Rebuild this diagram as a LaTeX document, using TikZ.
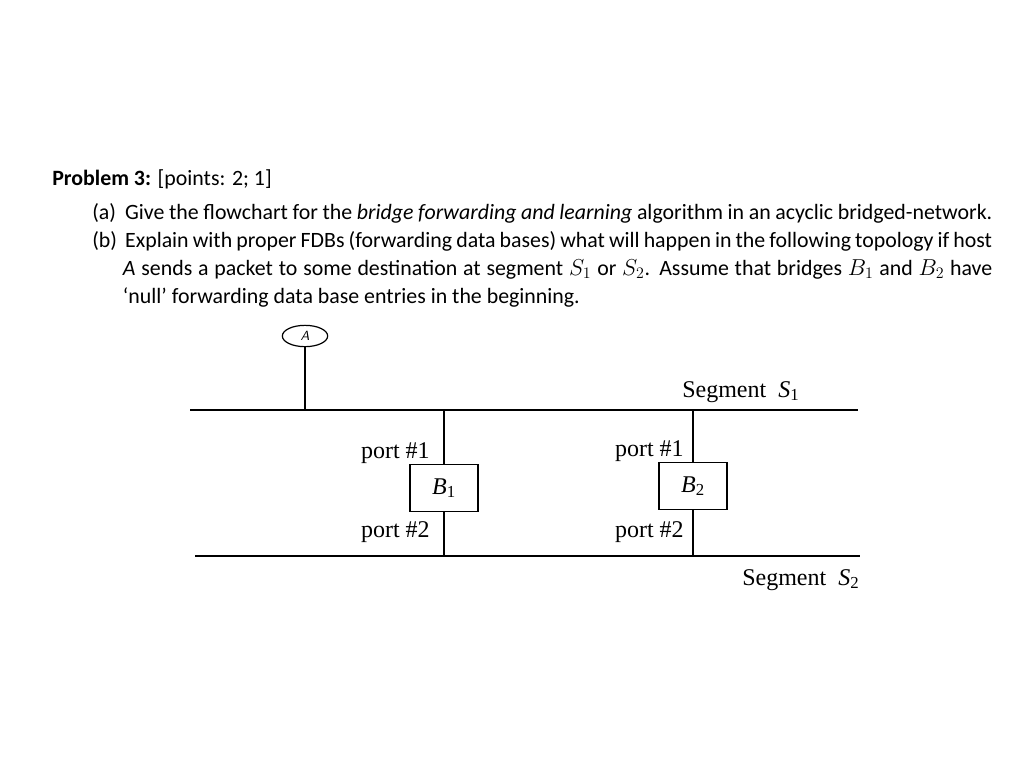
\documentclass[tikz,border=0pt]{standalone}
\usepackage{fontspec}
\setmainfont{Carlito}
\newfontfamily\tms{Liberation Serif}
\usetikzlibrary{shapes.geometric}
\newcommand{\tsub}[2]{\textit{#1}\textsubscript{#2}}
\begin{document}
\begin{tikzpicture}[x=0.75pt,y=-0.75pt,
  net/.style={line width=1.1pt},
  lab/.style={font=\tms\fontsize{18}{21}\selectfont, inner sep=0pt},
  box/.style={draw, line width=1.1pt, minimum width=51pt, minimum height=35pt, inner sep=0pt, font=\tms\fontsize{18}{21}\selectfont}]
\useasboundingbox (0,0) rectangle (1024,768);
\node[anchor=base west, inner sep=0pt, font=\fontsize{16.4}{21}\selectfont] (title) at (52,185) {\textbf{Problem 3:} [points: 2; 1]};
\node[anchor=north west, inner sep=0pt, text width=675pt, align=justify, font=\fontsize{16.4}{21}\selectfont] (body) at (92,203) {%
(a)\ \ Give the flowchart for the \textit{bridge forwarding and learning} algorithm in an acyclic bridged-network.\par
\hangindent=23pt\hangafter=1 (b)\ \ Explain with proper FDBs (forwarding data bases) what will happen in the following topology if host \textit{A} sends a packet to some destination at segment $S_1$ or $S_2$. Assume that bridges $B_1$ and $B_2$ have `null' forwarding data base entries in the beginning.\par};
\node[draw, ellipse, line width=0.9pt, minimum width=34pt, minimum height=16pt, inner sep=0pt, font=\sffamily\itshape\fontsize{10}{12}\selectfont] (A) at (305,336) {A};
\coordinate (s1l) at (190,410); \coordinate (s1r) at (858,410);
\coordinate (s2l) at (195,556); \coordinate (s2r) at (860,556);
\coordinate (a1) at (305,410);
\draw[net] (s1l) -- (s1r);
\draw[net] (s2l) -- (s2r);
\draw[net] (A) -- (a1);
\node[box] (B1) at (444,488) {\tsub{B}{1}};
\node[box] (B2) at (693,486) {\tsub{B}{2}};
\coordinate (b1t) at (444,410); \coordinate (b1b) at (444,556);
\coordinate (b2t) at (693,410); \coordinate (b2b) at (693,556);
\draw[net] (b1t) -- (B1.north); \draw[net] (B1.south) -- (b1b);
\draw[net] (b2t) -- (B2.north); \draw[net] (B2.south) -- (b2b);
\node[lab, anchor=base east] (p11) at (430,458) {port \#1};
\node[lab, anchor=base east] (p12) at (430,537) {port \#2};
\node[lab, anchor=base east] (p21) at (684,456) {port \#1};
\node[lab, anchor=base east] (p22) at (684,537) {port \#2};
\node[lab, anchor=base west] (S1) at (682,397) {Segment\ \ \tsub{S}{1}};
\node[lab, anchor=base west] (S2) at (742,585) {Segment\ \ \tsub{S}{2}};
\end{tikzpicture}
\end{document}
